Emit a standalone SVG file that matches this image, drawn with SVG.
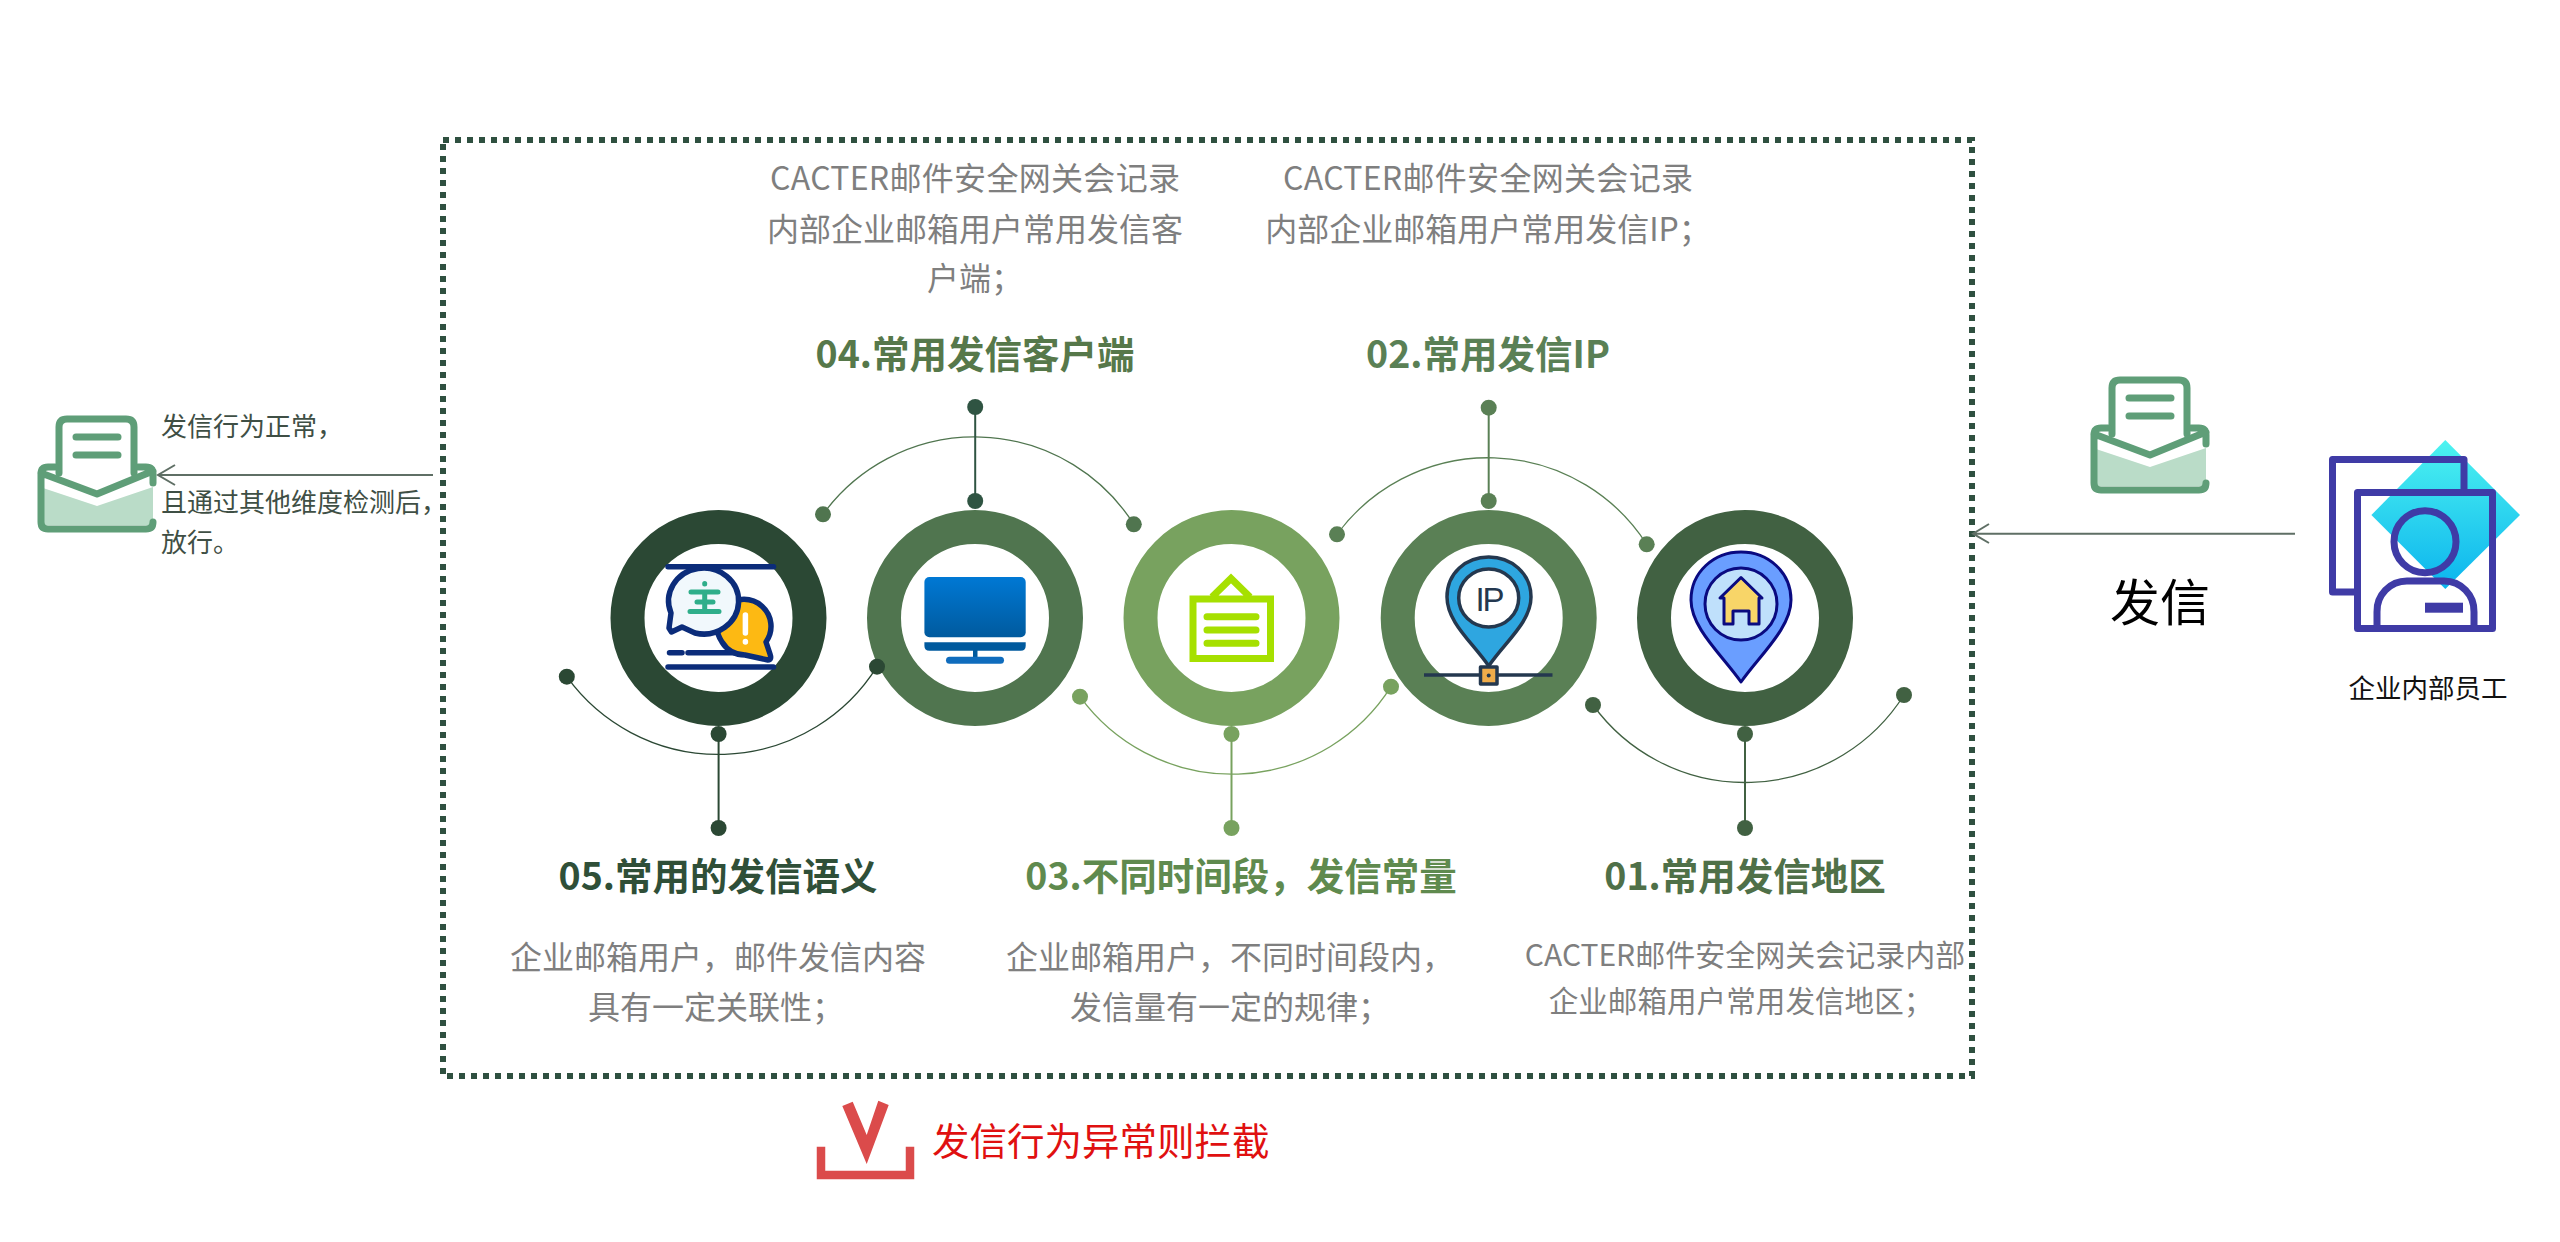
<svg xmlns="http://www.w3.org/2000/svg" width="2560" height="1242" viewBox="0 0 2560 1242">
<style>
text{font-family:"Microsoft YaHei","Noto Sans CJK SC","Noto Sans",sans-serif}
.b{font-size:32px;fill:#7f7f7f;text-anchor:middle}
.t{font-size:37.5px;font-weight:700;text-anchor:middle}
.s{font-size:26px;fill:#3f4f45}
.r{fill:none;stroke-width:34}
.a{fill:none;stroke-width:1.3}
.v{stroke-width:2}
.e{fill:none;stroke:#5f9e78;stroke-width:7;stroke-linecap:round;stroke-linejoin:round}
.p{fill:none;stroke:#3f3ba6;stroke-width:7;stroke-linejoin:round}
.c{fill:none;stroke:#0b2c7a;stroke-width:5.5;stroke-linecap:round}
.m{fill:none;stroke:#2fae8a;stroke-width:5;stroke-linecap:round}
.l{fill:none;stroke:#a6e000;stroke-width:7}
.n{stroke:#24384f;stroke-width:3.5;stroke-linejoin:round}
.h{stroke:#0a0a80;stroke-width:3;stroke-linejoin:round}
.w{fill:none;stroke:#5f6f65;stroke-width:2}
</style>
<defs>
<linearGradient id="sc" x1="0" y1="0" x2="0" y2="1"><stop offset="0" stop-color="#0078d4"/><stop offset="1" stop-color="#005a9e"/></linearGradient>
<linearGradient id="dm" x1="0" y1="0" x2="0" y2="1"><stop offset="0" stop-color="#4df3f0"/><stop offset="1" stop-color="#0bb4ee"/></linearGradient>
<g id="mail">
<path d="M43 488L97 506L153 487V525H43Z" fill="#badcc8"/>
<path class="e" d="M59 473V427Q59 419 67 419H126Q134 419 134 427V473"/>
<path class="e" d="M76 437H118M76 455H118"/>
<path class="e" d="M41 473L97 494L153 471M153 483V474Q153 467 146 467H138M55 467H48Q41 467 41 474V522Q41 529 48 529H146Q153 529 153 522"/>
</g>
</defs>
<rect width="2560" height="1242" fill="#fff"/>
<rect id="frame" x="443" y="140" width="1529" height="936" fill="none" stroke="#2f5040" stroke-width="6" stroke-dasharray="6 6"/>

<g id="node-05">
<circle class="r" cx="718.5" cy="618" r="91" stroke="#2b4834"/>
<path class="c" d="M668 566.7H773.5M669.5 652.7H682M688 652.7H750M668 667H773.5"/>
<path d="M745 655L768 660Q772 660 770 654L766 642A27 27 0 1 0 722 642A27 27 0 0 0 745 655Z" fill="#fdb913" stroke="#0b2c7a" stroke-width="5.5" stroke-linejoin="round"/>
<path d="M745.4 615V633M745.4 641.5V642" stroke="#fff" stroke-width="5.5" stroke-linecap="round" fill="none"/>
<path d="M669 628L671 613A35 33 0 1 1 695 633L682 627L671.5 632Z" fill="#f1f8fc" stroke="#0b2c7a" stroke-width="5.5" stroke-linejoin="round"/>
<path class="m" d="M704.7 583.5V584M691 592H718M697 602H713M690 611.5H719M704.7 592V611"/>
</g>

<g id="node-04">
<circle class="r" cx="975" cy="618" r="91" stroke="#50754f"/>
<rect x="924.4" y="577" width="101.3" height="60.3" rx="5" fill="url(#sc)"/>
<path d="M924.4 642.3H1025.7V645.7Q1025.7 650.7 1020.7 650.7H929.4Q924.4 650.7 924.4 645.7Z" fill="#005a9e"/>
<rect x="973" y="650" width="4.5" height="8" fill="#005a9e"/>
<rect x="946" y="656.7" width="58" height="7" rx="3.5" fill="#0f6cbd"/>
</g>

<g id="node-03">
<circle class="r" cx="1231.5" cy="618" r="91" stroke="#78a25f"/>
<path class="l" d="M1193 599H1270.5V658.5H1193ZM1212 597L1231 578.5L1250 597"/>
<path class="l" d="M1207 616.7H1256M1207 630H1256M1207 643.3H1256" stroke-width="6" stroke-linecap="round"/>
</g>

<g id="node-02">
<circle class="r" cx="1488.7" cy="618" r="91" stroke="#5a8055"/>
<path class="n" d="M1488.7 666C1472 642 1447 622 1447 597C1447 573 1466 557 1488.7 557C1511 557 1531 573 1531 597C1531 622 1505 642 1488.7 666Z" fill="#2ea6e0"/>
<ellipse class="n" cx="1488.7" cy="598" rx="30" ry="29" fill="#fff"/>
<text x="1489" y="611" font-size="33" fill="#24384f" text-anchor="middle" letter-spacing="-2" style="font-family:'Liberation Sans',sans-serif">IP</text>
<path class="n" d="M1424 675H1552.5" fill="none"/>
<rect class="n" x="1480.5" y="667" width="16.5" height="17" fill="#f0ac4a"/>
<circle cx="1488.7" cy="675.5" r="2" fill="#24384f"/>
</g>

<g id="node-01">
<circle class="r" cx="1745" cy="618" r="91" stroke="#416142"/>
<path class="h" d="M1741 682C1722 655 1691 628 1691 600C1691 572 1714 552 1741 552C1768 552 1791 572 1791 600C1791 628 1760 655 1741 682Z" fill="#6a9eff"/>
<circle class="h" cx="1741" cy="604" r="36" fill="#bfe0fb"/>
<path class="h" d="M1741 577.5L1720 598H1724V624H1733V611H1749V624H1759V598H1762Z" fill="#f8d568"/>
</g>

<g id="connectors">
<g stroke="#2b4834" fill="#2b4834">
<path class="a" d="M566.8 676.7A187 187 0 0 0 877 666.7"/>
<line class="v" x1="718.6" y1="734" x2="718.6" y2="828"/>
<g stroke="none"><ellipse cx="566.8" cy="676.7" rx="8" ry="8"/><ellipse cx="877" cy="666.7" rx="8" ry="8"/><ellipse cx="718.6" cy="734" rx="8" ry="8"/><ellipse cx="718.6" cy="828" rx="8" ry="8"/></g>
</g>
<g stroke="#50754f" fill="#50754f">
<path class="a" d="M823 514.3A188 188 0 0 1 1133.8 524.3"/>
<line class="v" x1="975.2" y1="407" x2="975.2" y2="501" stroke="#2f5442"/>
<g stroke="none"><ellipse cx="823" cy="514.3" rx="8" ry="8"/><ellipse cx="1133.8" cy="524.3" rx="8" ry="8"/><ellipse cx="975.2" cy="407" rx="8" ry="8" fill="#2f5442"/><ellipse cx="975.2" cy="501" rx="8" ry="8" fill="#2f5442"/></g>
</g>
<g stroke="#78a25f" fill="#78a25f">
<path class="a" d="M1080 696.7A188 188 0 0 0 1391 686.7"/>
<line class="v" x1="1231.5" y1="734" x2="1231.5" y2="828"/>
<g stroke="none"><ellipse cx="1080" cy="696.7" rx="8" ry="8"/><ellipse cx="1391" cy="686.7" rx="8" ry="8"/><ellipse cx="1231.5" cy="734" rx="8" ry="8"/><ellipse cx="1231.5" cy="828" rx="8" ry="8"/></g>
</g>
<g stroke="#5a8055" fill="#5a8055">
<path class="a" d="M1337 534.3A188 188 0 0 1 1646.7 544.3"/>
<line class="v" x1="1488.7" y1="407.7" x2="1488.7" y2="501"/>
<g stroke="none"><ellipse cx="1337" cy="534.3" rx="8" ry="8"/><ellipse cx="1646.7" cy="544.3" rx="8" ry="8"/><ellipse cx="1488.7" cy="407.7" rx="8" ry="8"/><ellipse cx="1488.7" cy="501" rx="8" ry="8"/></g>
</g>
<g stroke="#416142" fill="#416142">
<path class="a" d="M1593 705A188 188 0 0 0 1904 695"/>
<line class="v" x1="1745" y1="734" x2="1745" y2="828"/>
<g stroke="none"><ellipse cx="1593" cy="705" rx="8" ry="8"/><ellipse cx="1904" cy="695" rx="8" ry="8"/><ellipse cx="1745" cy="734" rx="8" ry="8"/><ellipse cx="1745" cy="828" rx="8" ry="8"/></g>
</g>
<path class="w" d="M433 475H158M175 465L158 475L175 485"/>
<path class="w" d="M2295 533.7H1973M1989 524L1973 533.7L1989 543"/>
</g>

<g id="labels">
<text class="b" x="975" y="190" textLength="410">CACTER邮件安全网关会记录</text>
<text class="b" x="975" y="241">内部企业邮箱用户常用发信客</text>
<text class="b" x="975" y="290">户端；</text>
<text class="t" x="975" y="368" fill="#56784a">04.常用发信客户端</text>
<text class="b" x="1488" y="190" textLength="410">CACTER邮件安全网关会记录</text>
<text class="b" x="1488" y="241">内部企业邮箱用户常用发信IP；</text>
<text class="t" x="1488" y="368" fill="#5a8055">02.常用发信IP</text>
<text class="t" x="718" y="890" fill="#2f4f38">05.常用的发信语义</text>
<text class="b" x="718" y="969">企业邮箱用户，邮件发信内容</text>
<text class="b" x="716" y="1019">具有一定关联性；</text>
<text class="t" x="1241" y="890" fill="#5f8a4e">03.不同时间段，发信常量</text>
<text class="b" x="1230" y="969">企业邮箱用户，不同时间段内，</text>
<text class="b" x="1230" y="1019">发信量有一定的规律；</text>
<text class="t" x="1745" y="890" fill="#4f7048">01.常用发信地区</text>
<text class="b" x="1745" y="966" style="font-size:30px">CACTER邮件安全网关会记录内部</text>
<text class="b" x="1741" y="1012" style="font-size:29.6px">企业邮箱用户常用发信地区；</text>
</g>

<g id="sender">
<path d="M2445.3 440L2520 515L2445.3 589L2371.4 515Z" fill="url(#dm)"/>
<path class="p" d="M2356 592H2332.5V459.5H2464V490"/>
<rect class="p" x="2357.5" y="492.5" width="135" height="136" fill="none"/>
<circle class="p" cx="2425" cy="541.7" r="31"/>
<path class="p" d="M2377 628V612A30 30 0 0 1 2407 581H2444A30 30 0 0 1 2474 612V628"/>
<rect x="2425" y="602.7" width="38" height="10" fill="#3f3ba6"/>
<text x="2428" y="698" font-size="26.5" fill="#111" text-anchor="middle">企业内部员工</text>
</g>
<g id="mail-out"><use href="#mail" transform="translate(2053 -39)"/>
<text x="2160" y="621" font-size="50" fill="#000" text-anchor="middle">发信</text></g>
<g id="mail-pass"><use href="#mail"/>
<text class="s" x="161" y="436">发信行为正常，</text>
<text class="s" x="161" y="512">且通过其他维度检测后，</text>
<text class="s" x="161" y="552">放行。</text></g>
<g id="block">
<path d="M821 1146.7V1175H910V1146.7" fill="none" stroke="#db4b4b" stroke-width="8.5"/>
<path d="M842.3 1106L852.7 1101.7L866.7 1135L878.3 1100.7L888.7 1105L866.7 1164Z" fill="#db4b4b"/>
<text x="932" y="1155" font-size="37.5" fill="#e01010">发信行为异常则拦截</text>
</g>
</svg>
